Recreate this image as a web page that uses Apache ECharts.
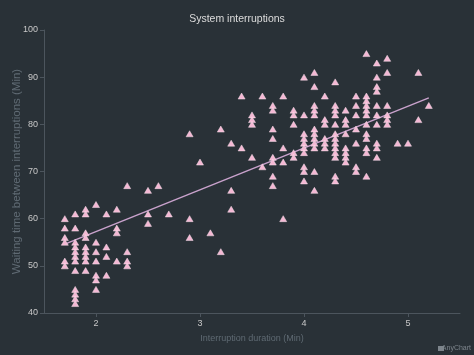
<!DOCTYPE html>
<html>
<head>
<meta charset="utf-8">
<script src="https://cdn.jsdelivr.net/npm/echarts@6/dist/echarts.min.js"></script>
<style>
html,body{margin:0;padding:0;background:#293137;}
#c{width:474px;height:355px;}
</style>
</head>
<body>
<div id="c"></div>
<script>
// Interruption duration (Min) per column, and waiting times (Min) observed at that duration
const durations = [1.7, 1.8, 1.9, 2.0, 2.1, 2.2, 2.3, 2.5, 2.6, 2.7, 2.9, 3.0, 3.1, 3.2, 3.3, 3.4, 3.5, 3.6, 3.7, 3.8, 3.9, 4.0, 4.1, 4.2, 4.3, 4.4, 4.5, 4.6, 4.7, 4.8, 4.9, 5.0, 5.1, 5.2];
const waitingTimes = [
  [60, 58, 56, 55, 51, 50],
  [61, 58, 55, 54, 53, 52, 51, 49, 45, 44, 43, 42],
  [62, 61, 57, 56, 54, 53, 52, 51, 49],
  [63, 55, 53, 51, 48, 47, 45],
  [61, 54, 52, 48],
  [62, 58, 57, 51],
  [67, 53, 51, 50],
  [66, 61, 59],
  [67],
  [61],
  [78, 60, 56],
  [72],
  [57],
  [79, 53],
  [76, 66, 62],
  [86, 75],
  [82, 81, 80, 73],
  [86, 71],
  [84, 83, 79, 77, 73, 72, 69, 67],
  [86, 75, 72, 60],
  [83, 82, 80, 74, 73],
  [90, 82, 78, 77, 76, 75, 74, 71, 70, 68],
  [91, 88, 84, 83, 82, 79, 78, 77, 76, 75, 70, 66],
  [86, 81, 80, 77, 76, 75],
  [89, 84, 83, 82, 80, 78, 77, 76, 75, 74, 73, 69, 68],
  [83, 81, 80, 78, 75, 74, 73, 72],
  [86, 84, 82, 79, 76, 71, 70],
  [95, 86, 85, 84, 83, 82, 80, 78, 77, 75, 74, 69],
  [93, 90, 88, 87, 84, 82, 80, 76, 75, 73],
  [94, 91, 84, 82, 81, 80],
  [76],
  [76],
  [91, 81],
  [84]
];
// Trend line end points (duration, waiting)
const trendX = [1.7, 5.2];
const trendY = [54.6, 85.6];
const xTicks = [2, 3, 4, 5];
const yTicks = [40, 50, 60, 70, 80, 90, 100];

const points = [];
durations.forEach((d, i) => waitingTimes[i].forEach(w => points.push([d, w])));
const trend = trendX.map((x, i) => [x, trendY[i]]);

const FONT = 'Liberation Sans, Arial, sans-serif';
const chart = echarts.init(document.getElementById('c'), null, {renderer: 'canvas'});
chart.setOption({
  backgroundColor: '#293137',
  animation: false,
  title: {
    text: 'System interruptions',
    left: 'center',
    top: 9,
    textStyle: {color: '#dcdcdc', fontSize: 10.5, fontWeight: 'normal', fontFamily: FONT}
  },
  grid: {left: 44, right: 14, top: 30, bottom: 42, containLabel: false, outerBoundsMode: 'none'},
  xAxis: {
    type: 'value',
    min: 1.5, max: 5.5,
    name: 'Interruption duration (Min)',
    nameLocation: 'middle',
    nameGap: 21,
    nameMoveOverlap: false,
    nameTextStyle: {color: '#5f6a73', fontSize: 9, fontFamily: FONT},
    axisLine: {show: true, lineStyle: {color: '#4c555d', width: 1}},
    axisTick: {show: true, length: 4, customValues: xTicks, lineStyle: {color: '#4c555d'}},
    axisLabel: {customValues: xTicks, color: '#c8c8c8', fontSize: 9, margin: 6, fontFamily: FONT},
    splitLine: {show: false}
  },
  yAxis: {
    type: 'value',
    min: 40, max: 100, interval: 10,
    name: 'Waiting time between interruptions (Min)',
    nameLocation: 'middle',
    nameGap: 21,
    nameRotate: 90,
    nameMoveOverlap: false,
    nameTextStyle: {color: '#5f6a73', fontSize: 11.5, fontFamily: FONT},
    axisLine: {show: true, lineStyle: {color: '#4c555d', width: 1}},
    axisTick: {show: true, length: 4, lineStyle: {color: '#4c555d'}},
    axisLabel: {color: '#c8c8c8', fontSize: 9, margin: 6, fontFamily: FONT,
      formatter: v => yTicks.includes(v) ? String(v) : ''},
    splitLine: {show: false}
  },
  series: [
    {
      type: 'line',
      data: trend,
      symbol: 'none',
      lineStyle: {color: '#c9a2cc', width: 1.5},
      z: 1
    },
    {
      type: 'scatter',
      data: points,
      symbol: 'triangle',
      symbolSize: [7, 6],
      itemStyle: {color: '#f4b8d4', borderColor: '#fbe0ec', borderWidth: 0.5, opacity: 1},
      z: 2
    }
  ],
  graphic: [
    {type: 'rect', right: 30, bottom: 4, shape: {width: 6, height: 5}, style: {fill: '#7d858c'}},
    {type: 'text', right: 3, bottom: 3, style: {text: 'AnyChart', fill: '#7d858c', fontSize: 7, fontFamily: FONT}}
  ]
});
</script>
</body>
</html>
